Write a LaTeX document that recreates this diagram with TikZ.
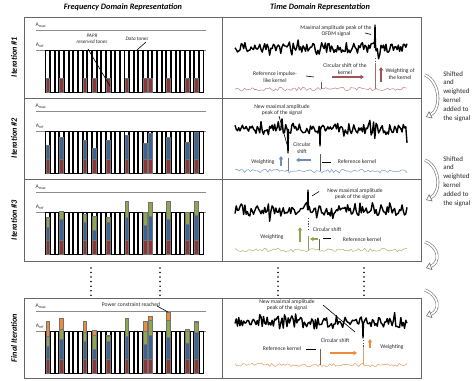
\documentclass[tikz,border=0pt]{standalone}
\usepackage{fontspec}
\newfontfamily\cf{Carlito}
\usetikzlibrary{arrows.meta}
\definecolor{cred}{HTML}{8E3535}
\definecolor{cblue}{HTML}{3A6496}
\definecolor{cgreen}{HTML}{8FA650}
\definecolor{corange}{HTML}{EE8A3C}
\definecolor{kred}{HTML}{C48A88}
\definecolor{kblue}{HTML}{7C9CC8}
\definecolor{kgreen}{HTML}{A8BC78}
\definecolor{korange}{HTML}{E2A064}
\begin{document}
\begin{tikzpicture}[x=0.75pt,y=-0.75pt,
  frame/.style={draw=black!60,line width=0.6pt},
  refline/.style={draw=black!45,line width=0.5pt},
  tone/.style={draw=black,line width=0.4pt,fill=white},
  seg/.style={draw=black!55,line width=0.25pt},
  sig/.style={line width=1.05pt,line join=round},
  kern/.style={line width=0.4pt,line join=round},
  lead/.style={draw=black,line width=0.45pt},
  lbl/.style={font=\cf\fontsize{4.2}{5}\selectfont,text=black!85,inner sep=0pt,align=center},
  ilbl/.style={font=\cf\itshape\fontsize{3.9}{5}\selectfont,text=black!85,inner sep=0pt,align=center},
  alab/.style={font=\cf\fontsize{4.2}{5}\selectfont,text=black!80,inner sep=0pt},
  side/.style={font=\cf\fontsize{5.2}{6.6}\selectfont,text=black!85,align=left,inner sep=0pt,anchor=north west},
  ttl/.style={font=\cf\bfseries\itshape\fontsize{6.2}{7}\selectfont,inner sep=0pt},
  itl/.style={font=\cf\bfseries\itshape\fontsize{6.2}{7}\selectfont,rotate=90,inner sep=0pt},
  arr/.style={line width=0.8pt,-{Triangle[length=2.6pt,width=3.2pt]}},
  hollow/.style={draw=black!55,double=white,double distance=1.3pt,line width=0.45pt,-{Triangle[open,length=4pt,width=6pt]}},
  dots/.style={line width=1.3pt,line cap=round,dash pattern=on 0pt off 3.4pt},
  vdot/.style={line width=0.5pt,black!70,dash pattern=on 1pt off 1pt}]
\useasboundingbox (0,0) rectangle (474,381);

% titles
\node[ttl] (t1) at (123,7) {Frequency Domain Representation};
\node[ttl] (t2) at (320,7) {Time Domain Representation};
\node[itl] (i1) at (14,57) {Iteration \#1};
\node[itl] (i2) at (14,138) {Iteration \#2};
\node[itl] (i3) at (14,220) {Iteration \#3};
\node[itl] (i4) at (14,338) {Final Iteration};

% left panel common
\foreach \top in {17,98,179,298}{
\begin{scope}[shift={(0,\top)}]
  \draw[refline] (36,13) -- (206,13);
  \draw[refline] (36,33.5) -- (206,33.5);
  \node[alab] at (41,8) {A\textsubscript{max}};
  \node[alab] at (40,28) {A\textsubscript{ref}};
  \foreach \i in {0,...,33} \draw[tone] ({45.7+4.65*\i},75) rectangle ++(3.7,-41.5);
\end{scope}}

% row 1 bars
\begin{scope}[shift={(0,17)}]
  \foreach \i in {0,3,8,10,13,17,21,22,26,30,32} \draw[seg,fill=cred] ({45.7+4.65*\i},75) rectangle ++(3.7,-14);
  \node[ilbl] (papr) at (92,22) {PAPR\\reserved tones};
  \node[ilbl] (data) at (137,22) {Data tones};
  \draw[lead] (88,32) -- (110,69);
  \draw[lead] (146,25) -- (137,33);
\end{scope}
% row 2 bars
\begin{scope}[shift={(0,98)}]
  \foreach \i/\b in {0/27.7,3/36,8/32.7,10/24.4,13/32.7,17/37.7,21/29.4,22/39.4,26/36,30/31,32/41}{
    \pgfmathsetmacro\xa{45.7+4.65*\i}
    \draw[seg,fill=cblue] (\xa,75) rectangle ++(3.7,-\b);
    \draw[seg,fill=cred] (\xa,75) rectangle ++(3.7,-14);}
\end{scope}
% row 3 bars
\begin{scope}[shift={(0,179)}]
  \foreach \i/\b/\g in {0/27/36.6,3/35/43.3,8/31.6/40,10/23.5/38.3,13/31.6/36.6,17/37.3/53.3,21/28.5/41.6,22/38.3/51.6,26/35/53.3,30/30/41.6,32/39/53.3}{
    \pgfmathsetmacro\xa{45.7+4.65*\i}
    \draw[seg,fill=cgreen] (\xa,75) rectangle ++(3.7,-\g);
    \draw[seg,fill=cblue] (\xa,75) rectangle ++(3.7,-\b);
    \draw[seg,fill=cred] (\xa,75) rectangle ++(3.7,-14);}
\end{scope}
% final bars
\begin{scope}[shift={(0,298)}]
  \foreach \i/\b/\g/\o in {0/27.3/37.3/51.7,3/34/44/55,8/31.7/40.7/51.7,10/24/38.3/43.3,13/31.7/36.7/38.3,17/37.3/55/55,21/29/41.7/51.7,22/38.3/53.3/56.7,26/36/53.3/60.7,30/30/41.7/44.3,32/40.7/50.7/51.7}{
    \pgfmathsetmacro\xa{45.7+4.65*\i}
    \draw[seg,fill=corange] (\xa,75) rectangle ++(3.7,-\o);
    \draw[seg,fill=cgreen] (\xa,75) rectangle ++(3.7,-\g);
    \draw[seg,fill=cblue] (\xa,75) rectangle ++(3.7,-\b);
    \draw[seg,fill=cred] (\xa,75) rectangle ++(3.7,-14);}
  \node[lbl] (pcr) at (131,7) {Power constraint reached};
  \draw[lead] (157,8) -- (168,14);
\end{scope}

% right panel row 1
\begin{scope}[shift={(0,17)}]
  \pgfmathsetseed{3}
  \draw[sig] plot[domain=235:407,samples=140,variable=\t] (\t,{31+5*rand+11*rand*rand*rand});
  \draw[sig] (374.5,31) -- (375,8) -- (375.5,31);
  \draw[vdot] (375,41) -- (375,55);
  \pgfmathsetseed{7}
  \draw[kern,kred] plot[domain=235:407,samples=90,variable=\t] (\t,{72+1.8*rand});
  \draw[kred!60!black,line width=0.5pt] (321.7,72) -- (321.7,64.7);
  \draw[kred!80!black,line width=0.6pt] (375,72) -- (375,46);
  \node[lbl] (m1) at (336,14) {Maximal amplitude peak of the\\OFDM signal};
  \draw[lead] (365,16) -- (371,17.5);
  \node[lbl] (r1) at (275,60) {Reference impulse-\\like kernel};
  \draw[lead] (306,59) -- (314,60);
  \node[lbl] (c1) at (345,52) {Circular shift of the\\kernel};
  \draw[arr,cred!85] (332,60) -- (364,60);
  \node[lbl] (w1) at (400,57) {Weighting of\\the kernel};
  \draw[arr,cred!85] (381,65) -- (381,50);
\end{scope}
% right panel row 2
\begin{scope}[shift={(0,98)}]
  \pgfmathsetseed{5}
  \draw[sig] plot[domain=235:407,samples=140,variable=\t] (\t,{31+5*rand+11*rand*rand*rand});
  \draw[sig] (287.5,31) -- (288,55) -- (288.5,31);
  \draw[sig] (319.5,31) -- (320,48) -- (320.5,31);
  \pgfmathsetseed{17}
  \draw[kern,kblue] plot[domain=235:407,samples=90,variable=\t] (\t,{73+1.8*rand});
  \draw[kblue!60!black,line width=0.5pt] (320,73) -- (320,56);
  \draw[kblue!80!black,line width=0.6pt] (288,73) -- (288,60);
  \node[lbl] (m2) at (282,12) {New maximal amplitude\\peak of the signal};
  \draw[lead] (279,18) -- (288,50);
  \node[lbl] (w2) at (263,64) {Weighting};
  \draw[arr,kblue!90!black] (281,68) -- (281,58);
  \node[lbl] (c2) at (302,50) {Circular\\shift};
  \draw[arr,kblue!90!black] (311,62) -- (296,62);
  \node[lbl] (r2) at (357,64) {Reference kernel};
  \draw[lead] (322,64) -- (331,64);
\end{scope}
% right panel row 3
\begin{scope}[shift={(0,179)}]
  \pgfmathsetseed{9}
  \draw[sig] plot[domain=235:407,samples=140,variable=\t] (\t,{31+5*rand+11*rand*rand*rand});
  \draw[sig] (307.5,31) -- (308,11) -- (308.5,31);
  \draw[vdot] (308,39) -- (308,50);
  \pgfmathsetseed{21}
  \draw[kern,kgreen] plot[domain=235:407,samples=90,variable=\t] (\t,{71+1.8*rand});
  \draw[kgreen!60!black,line width=0.5pt] (319,71) -- (319,60);
  \draw[kgreen!85!black,line width=0.6pt] (308,71) -- (308,57);
  \node[lbl] (m3) at (355,15) {New maximal amplitude\\peak of the signal};
  \draw[lead] (319,12.5) -- (312,17);
  \node[lbl] (w3) at (272,58) {Weighting};
  \draw[arr,cgreen] (300,63) -- (300,48);
  \node[lbl] (c3) at (327,51) {Circular shift};
  \draw[arr,cgreen] (318,60) -- (310,60);
  \node[lbl] (r3) at (362,61) {Reference kernel};
  \draw[lead] (323,59) -- (331,59);
\end{scope}
% right panel final
\begin{scope}[shift={(0,298)}]
  \pgfmathsetseed{13}
  \draw[sig] plot[domain=235:407,samples=140,variable=\t] (\t,{24+5*rand+11*rand*rand*rand});
  \draw[sig] (362.5,24) -- (363,40) -- (363.5,24);
  \draw[vdot] (363,42) -- (363,50);
  \pgfmathsetseed{27}
  \draw[kern,korange] plot[domain=235:407,samples=90,variable=\t] (\t,{67+1.8*rand});
  \draw[korange!60!black,line width=0.5pt] (320,67) -- (320,51);
  \draw[korange,line width=0.7pt] (363,67) -- (363,49);
  \node[lbl] (m4) at (287,7) {New maximal amplitude\\peak of the signal};
  \draw[lead] (323,7) -- (355,34);
  \node[lbl] (r4) at (282,51) {Reference kernel};
  \draw[lead] (306,51) -- (316,51);
  \node[lbl] (c4) at (335,43) {Circular shift};
  \draw[arr,corange] (330,55) -- (357,55);
  \draw[arr,corange] (370,50) -- (370,41);
  \node[lbl] (w4) at (392,49) {Weighting};
\end{scope}

% frames
\draw[frame] (24,17) rectangle (421,261);
\draw[frame] (222,17) -- (222,261);
\draw[frame] (24,98) -- (421,98);
\draw[frame] (24,179) -- (421,179);
\draw[frame] (24,298) rectangle (421,378);
\draw[frame] (222,298) -- (222,378);

% dots
\draw[dots] (91,268) -- (91,297);
\draw[dots] (160,268) -- (160,297);
\draw[dots] (278,268) -- (278,297);
\draw[dots] (364,268) -- (364,297);

% side arrows and text
\draw[hollow] (425,75) .. controls (441,82) and (441,110) .. (426,117);
\draw[hollow] (425,160) .. controls (441,167) and (441,193) .. (426,200);
\draw[hollow] (425,242) .. controls (440,247) and (440,263) .. (426,268);
\draw[hollow] (425,290) .. controls (440,296) and (440,311) .. (426,316);
\node[side] (s1) at (443,71) {Shifted\\and\\weighted\\kernel\\added to\\the signal};
\node[side] (s2) at (443,156) {Shifted\\and\\weighted\\kernel\\added to\\the signal};
\end{tikzpicture}
\end{document}
